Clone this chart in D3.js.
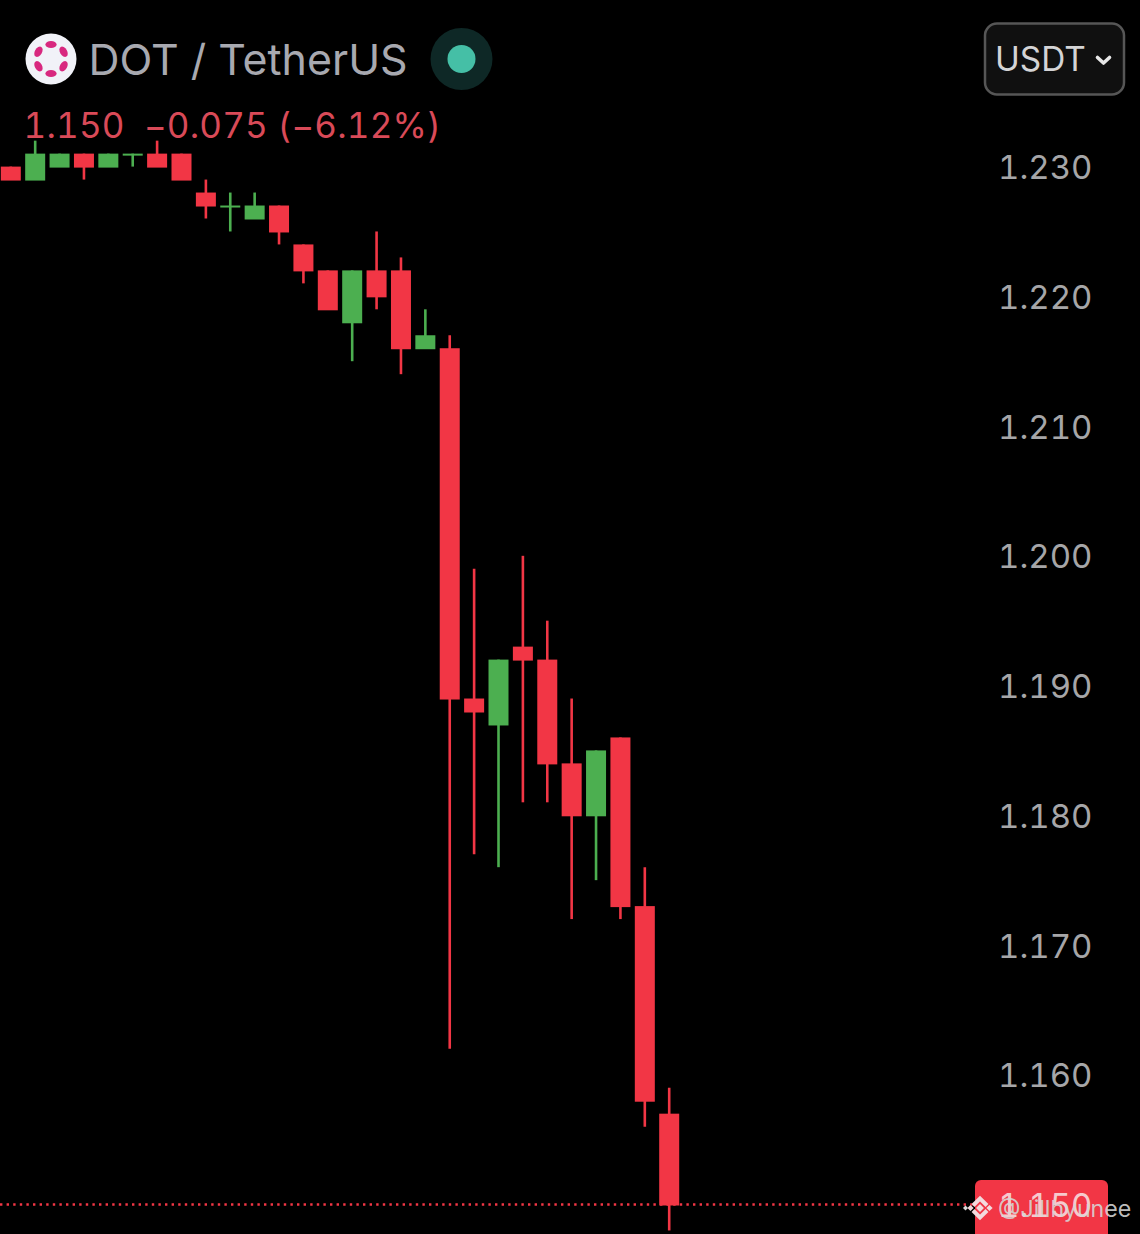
<!DOCTYPE html>
<html><head><meta charset="utf-8">
<script src="https://cdn.jsdelivr.net/npm/d3@7/dist/d3.min.js"></script>
<style>html,body{margin:0;padding:0;background:#000;overflow:hidden}svg{display:block}text{font-family:Inter,"Noto Sans",sans-serif}.num{font-feature-settings:"tnum" 1;font-variant-numeric:tabular-nums}</style>
</head><body><svg id="c" width="1140" height="1234"></svg>
<script>
const opens  = [1.230,1.229,1.230,1.231,1.230,1.231,1.231,1.231,1.228,1.227,1.226,1.227,1.224,1.222,1.218,1.222,1.222,1.216,1.216,1.189,1.187,1.193,1.192,1.184,1.180,1.186,1.173,1.157];
const closes = [1.229,1.231,1.231,1.230,1.231,1.231,1.230,1.229,1.227,1.227,1.227,1.225,1.222,1.219,1.222,1.220,1.216,1.217,1.189,1.188,1.192,1.192,1.184,1.180,1.185,1.173,1.158,1.150];
const highs  = [1.230,1.232,1.231,1.231,1.231,1.231,1.232,1.231,1.229,1.228,1.228,1.227,1.224,1.222,1.222,1.225,1.223,1.219,1.217,1.199,1.192,1.200,1.195,1.189,1.185,1.186,1.176,1.159];
const lows   = [1.229,1.229,1.230,1.229,1.230,1.230,1.230,1.229,1.226,1.225,1.226,1.224,1.221,1.219,1.215,1.219,1.214,1.216,1.162,1.177,1.176,1.181,1.181,1.172,1.175,1.172,1.156,1.148];
const axisTicks = [1.230,1.220,1.210,1.200,1.190,1.180,1.170,1.160];
const lastPrice = 1.150;
const titleText = "DOT / TetherUS";
const changeText = "1.150  −0.075 (−6.12%)";
const quoteText = "USDT";
const watermarkText = "@Jillhyunee";
const countdownText = "38:55";

const RED="#f23645", GREEN="#4caf50";
const svg=d3.select("#c");
const y=d3.scaleLinear().domain([1.23,1.15]).range([166.6,1204.5]);
const x=d3.scaleLinear().domain([0,27]).range([10.8,669.2]);
const W=20;
const idx=d3.range(opens.length);
const col=i=>closes[i]>=opens[i]?GREEN:RED;

// current price line
svg.append("line").attr("x1",0).attr("x2",975).attr("y1",y(lastPrice)).attr("y2",y(lastPrice))
  .attr("stroke",RED).attr("stroke-width",2.4).attr("stroke-dasharray","2.4 4.2");

// wicks
svg.append("g").selectAll("line").data(idx).join("line")
  .attr("x1",i=>x(i)).attr("x2",i=>x(i))
  .attr("y1",i=>y(highs[i])).attr("y2",i=>y(lows[i]))
  .attr("stroke",col).attr("stroke-width",2.6);
// bodies
svg.append("g").selectAll("rect").data(idx).join("rect")
  .attr("x",i=>x(i)-W/2).attr("width",W)
  .attr("y",i=>y(Math.max(opens[i],closes[i])))
  .attr("height",i=>Math.max(2,Math.abs(y(opens[i])-y(closes[i]))+1))
  .attr("fill",col);

// axis labels
svg.append("g").selectAll("text").data(axisTicks).join("text")
  .attr("class","num")
  .attr("x",998).attr("y",d=>y(d)+12.5)
  .attr("font-size",33).attr("fill","#a6a6a8")
  .text(d=>d3.format(".3f")(d));

// legend header
const logo=svg.append("g").attr("transform","translate(51,59)");
logo.append("circle").attr("r",25.5).attr("fill","#f1f2f8");
d3.range(6).forEach(k=>{
  const a=k*60-90;
  logo.append("ellipse").attr("rx",5.6).attr("ry",3.6)
   .attr("transform",`rotate(${a}) translate(14.5,0) rotate(90)`).attr("fill","#d8287f");
});
svg.append("text").attr("x",88.5).attr("y",75).attr("font-size",42.9).attr("fill","#a8a9b0").text(titleText);
svg.append("circle").attr("cx",461.5).attr("cy",59).attr("r",31).attr("fill","#0e2826");
svg.append("circle").attr("cx",461.5).attr("cy",59).attr("r",14).attr("fill","#45bfa6");
svg.append("text").attr("class","num").attr("x",23.5).attr("y",137.5).attr("font-size",35).attr("letter-spacing",0.2).attr("fill","#d94a58")
  .style("white-space","pre").text(changeText);

// quote button
svg.append("rect").attr("x",985).attr("y",23.5).attr("width",139).attr("height",71).attr("rx",12)
  .attr("fill","#101010").attr("stroke","#565656").attr("stroke-width",2.5);
svg.append("text").attr("x",995).attr("y",71).attr("font-size",33.3).attr("fill","#d4d4d6").text(quoteText);
svg.append("path").attr("d","M1097.5 57.5 L1103.5 63 L1109.5 57.5").attr("fill","none")
  .attr("stroke","#e8e8e8").attr("stroke-width",3.6).attr("stroke-linecap","round").attr("stroke-linejoin","round");

// price tag
svg.append("path").attr("d","M975 1234 V1186 a6 6 0 0 1 6 -6 H1102 a6 6 0 0 1 6 6 V1234 Z").attr("fill",RED);
svg.append("text").attr("class","num").attr("x",998).attr("y",1217).attr("font-size",33).attr("fill","#f6c9cd").text(d3.format(".3f")(lastPrice));
svg.append("text").attr("class","num").attr("x",998).attr("y",1258).attr("font-size",33).attr("fill","#f6c9cd").text(countdownText);

// watermark
const wm=svg.append("g").attr("transform","translate(980,1208)");
["M-7 -2.5 L0 -9.5 L7 -2.5","M-7 2.5 L0 9.5 L7 2.5"].forEach(d=>{
  wm.append("path").attr("d",d).attr("fill","none").attr("stroke","#f3dadd").attr("stroke-width",4);
});
[[0,0,2.8,"#f3dadd"],[-9.5,0,2.2,"#f3dadd"],[9.5,0,2.2,"#f3dadd"],[-14.5,0,1.8,"#d8d8d8"]].forEach(([a,b,s,c])=>{
  wm.append("rect").attr("x",a-s).attr("y",b-s).attr("width",2*s).attr("height",2*s).attr("transform",`rotate(45 ${a} ${b})`).attr("fill",c);
});
svg.append("text").attr("x",998).attr("y",1217).attr("font-size",23.2).attr("fill","#d6d6d6").attr("fill-opacity",.9).text(watermarkText);
</script></body></html>
